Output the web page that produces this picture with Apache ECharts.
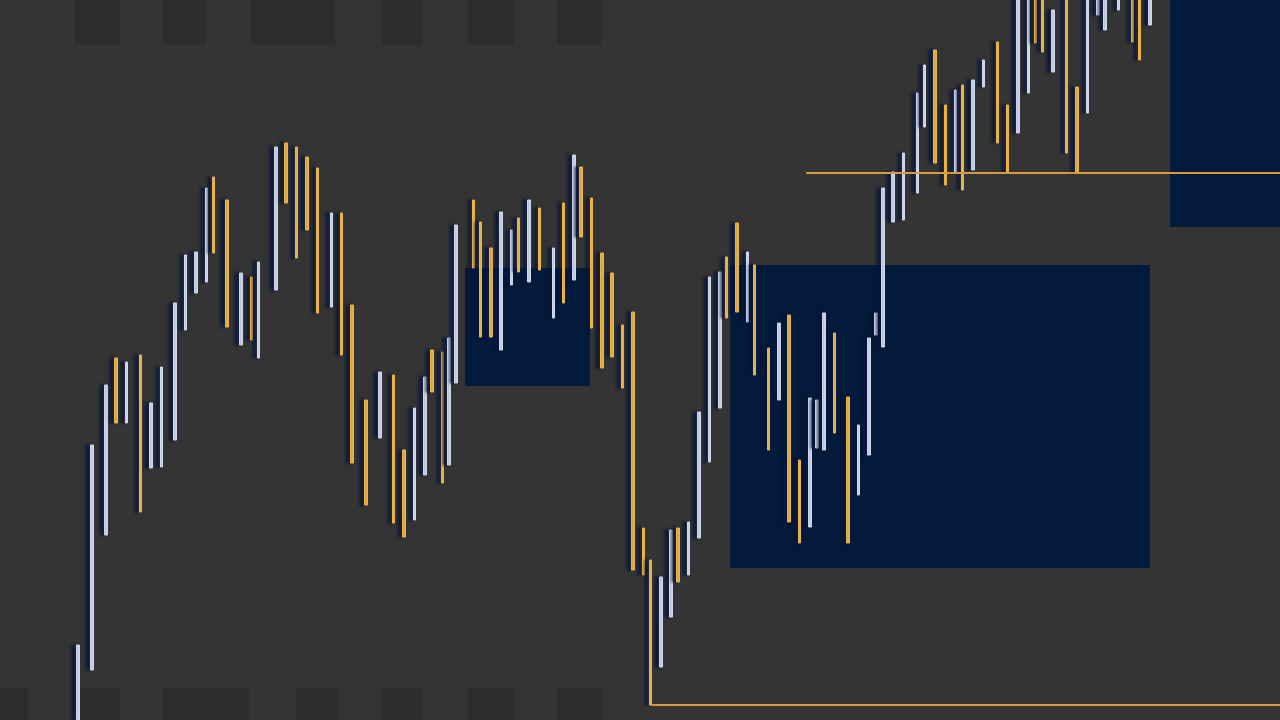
<!DOCTYPE html>
<html><head><meta charset="utf-8">
<script src="https://cdn.jsdelivr.net/npm/echarts@6/dist/echarts.min.js"></script>
<style>html,body{margin:0;padding:0;background:#343434}#c{width:1280px;height:720px}</style>
</head><body><div id="c"></div>
<script>
// time slots on the category axis (irregular session gaps)
const slotCount = 369;
const categories = Array.from({length: slotCount}, (_, i) => 'T' + (i + 1));

// slot index of each bar
const sessionIndex = [22,26,30,33,36,40,43,46,50,53,56,59,61,65,69,72,74,79,82,85,88,91,95,98,101,105,109,113,116,119,122,124,127,129,131,136,138,141,144,147,149,152,155,159,162,165,167,170,173,176,179,182,185,187,190,193,195,198,201,204,207,209,212,215,217,221,224,227,230,233,235,237,240,244,247,250,252,254,257,260,264,266,269,272,275,277,280,283,287,290,293,296,298,300,303,307,310,313,316,318,322,326,328,331];

const opens  = [0,50,185,362,297,365,252,253,280,390,427,438,543,520,375,443,362,430,577,573,563,552,413,507,415,320,282,345,270,200,245,370,368,255,337,520,498,472,370,435,502,438,512,402,517,440,553,522,467,447,395,408,192,160,53,103,192,145,182,258,312,463,497,398,455,372,320,405,260,193,272,270,387,323,225,265,385,373,498,500,527,593,670,615,547,635,550,633,678,615,587,627,730,730,648,730,633,607,705,690,710,730,730,695];
const closes = [75,275,335,297,358,208,317,353,417,465,468,532,467,393,447,380,458,573,517,462,490,407,507,365,257,215,348,197,183,312,343,328,237,382,495,452,383,383,508,490,448,520,450,472,417,565,483,392,352,363,332,150,145,15,143,190,138,198,308,443,448,402,408,468,345,270,397,198,177,322,320,407,287,177,295,382,407,532,548,567,627,655,557,535,630,530,640,660,577,547,730,730,677,668,710,567,547,730,730,730,730,678,660,730];
const lows   = [0,50,185,297,297,208,252,253,280,390,427,438,467,393,375,380,362,430,517,462,490,407,413,365,257,215,282,197,183,200,245,328,237,255,337,452,383,383,370,435,448,438,450,402,417,440,483,392,352,363,332,150,145,15,53,103,138,145,182,258,312,402,408,398,345,270,320,198,177,193,272,270,287,177,225,265,385,373,498,500,527,593,557,535,547,530,550,633,577,547,587,627,677,668,648,567,547,607,705,690,710,678,660,695];
const highs  = [75,275,335,362,358,365,317,353,417,465,468,532,543,520,447,443,458,573,577,573,563,552,507,507,415,320,348,345,270,312,343,370,368,382,495,520,498,472,508,490,502,520,512,472,517,565,553,522,467,447,395,408,192,160,143,190,192,198,308,443,448,463,497,468,455,372,397,405,260,322,320,407,387,323,295,382,407,532,548,567,627,655,670,615,630,635,640,660,678,615,730,730,730,730,710,730,633,730,730,730,730,730,730,730];

// zones: [slot-from, price-from, slot-to, price-to]
const navyZones = [[133.55,334,169.6,452],[209.95,152,331.0,455],[336.8,493,368.5,720]];
const stripeZones = [
  [21.1,675,34.1,720],[46.5,675,58.9,720],[71.9,675,84.8,720],[84.8,675,96.1,720],[109.6,675,121.2,720],[134.4,675,147.7,720],[160.1,675,173.0,720],
  [-0.5,0,7.6,32],[21.1,0,34.1,32],[46.5,0,71.3,32],[84.8,0,96.7,32],[109.6,0,121.2,32],[134.4,0,147.7,32],[160.1,0,173.0,32]
];
// horizontal levels: [slot-from, price]
const levelLines = [[231.9,547],[187.2,15]];

const candleData = categories.map(() => '-');
sessionIndex.forEach((s, k) => { candleData[s] = [opens[k], closes[k], lows[k], highs[k]]; });

const chart = echarts.init(document.getElementById('c'), null, {renderer: 'canvas'});
chart.setOption({
  backgroundColor: '#343434',
  animation: false,
  grid: {left: 0, right: 0, top: 0, bottom: 0},
  xAxis: [
    {type: 'category', data: categories, show: false, boundaryGap: true},
    {type: 'value', min: -0.5, max: slotCount - 0.5, show: false}
  ],
  yAxis: {type: 'value', min: 0, max: 720, show: false},
  series: [
    {
      type: 'line', xAxisIndex: 1, data: [], z: 1, silent: true,
      markArea: {
        silent: true,
        data: stripeZones.map(z => [{coord: [z[0], z[1]], itemStyle: {color: 'rgba(0,0,0,0.13)'}}, {coord: [z[2], z[3]]}])
          .concat(navyZones.map(z => [{coord: [z[0], z[1]], itemStyle: {color: '#031a3a'}}, {coord: [z[2], z[3]]}]))
      },
      markLine: {
        silent: true, symbol: 'none', label: {show: false},
        lineStyle: {color: '#d79a3c', width: 2, type: 'solid'},
        data: levelLines.map(l => [{coord: [l[0], l[1]]}, {coord: [slotCount - 0.5, l[1]]}])
      }
    },
    {
      type: 'candlestick', xAxisIndex: 0, z: 3, clip: true,
      barWidth: 3,
      data: candleData,
      itemStyle: {
        color: '#cfd8ea', color0: '#ebb445',
        borderColor: '#cfd8ea', borderColor0: '#ebb445', borderWidth: 1,
        shadowColor: 'rgba(8,22,60,0.9)', shadowBlur: 3, shadowOffsetX: -4
      }
    }
  ]
});
</script></body></html>
